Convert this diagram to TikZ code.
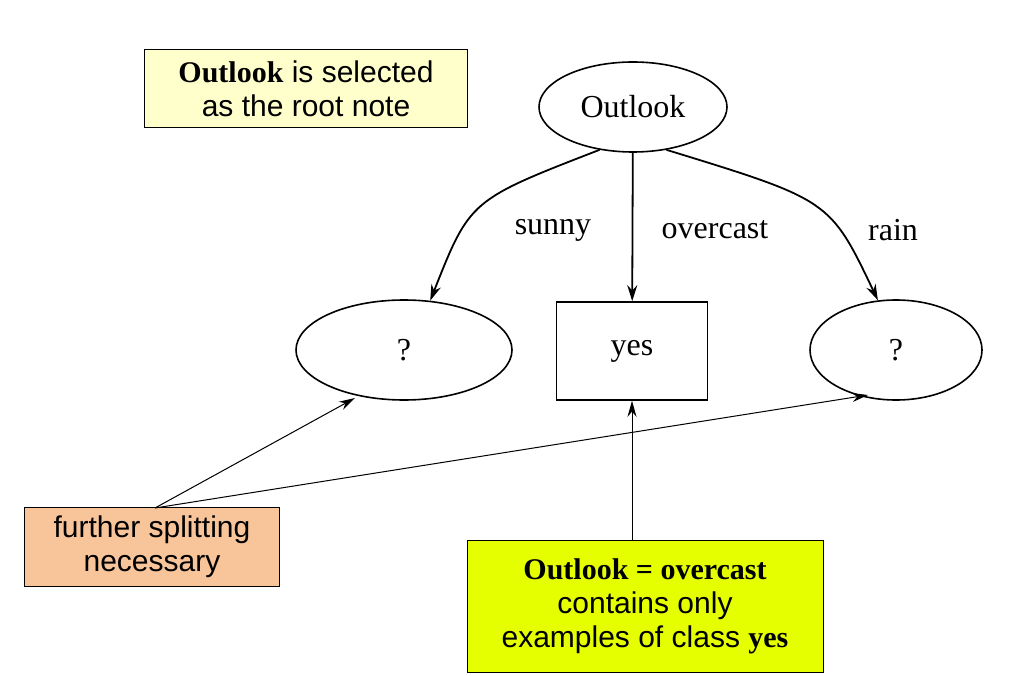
\documentclass[tikz,border=0pt]{standalone}
\usepackage{fontspec}
\setmainfont{Liberation Serif}
\setsansfont{Liberation Sans}
\usetikzlibrary{shapes.geometric,arrows.meta}
\definecolor{noteY}{HTML}{FFFFCC}
\definecolor{noteO}{HTML}{F8C49A}
\definecolor{noteG}{HTML}{E6FF00}
\tikzset{
 ell/.style={draw,ellipse,line width=1.6pt,font=\fontsize{32}{36}\selectfont},
 rectnode/.style={draw,rectangle,line width=1.6pt,font=\fontsize{32}{36}\selectfont},
 note/.style={draw,rectangle,line width=1pt,align=center,font=\sffamily\fontsize{30}{34}\selectfont},
 tree/.style={-{Stealth[length=16pt,width=10pt]},line width=1.8pt},
 lab/.style={font=\fontsize{32}{36}\selectfont},
 ann/.style={-{Stealth[length=16pt,width=9pt]},line width=1pt}
}
\begin{document}
\begin{tikzpicture}[x=1pt,y=-1pt]
\useasboundingbox (0,0) rectangle (1022,676);
\node[note,fill=noteY,minimum width=323pt,minimum height=78pt] (n1) at (306,89) {\rmfamily\bfseries Outlook\sffamily\mdseries{} is selected\\as the root note};
\node[ell,minimum width=188pt,minimum height=90pt] (o) at (633,107) {Outlook};
\node[ell,minimum width=216pt,minimum height=100pt] (l) at (404,350) {?};
\node[rectnode,minimum width=151pt,minimum height=98pt] (y) at (632,351) {yes};
\node[ell,minimum width=172pt,minimum height=100pt] (r) at (896,350) {?};
\draw[tree] (o.232) .. controls (470,200) .. (l.62);
\draw[tree] (o) -- (y);
\draw[tree] (o.308) .. controls (830,200) .. (r.110);
\node[lab] (s) at (553,230) {sunny};
\node[lab] (ov) at (715,230) {overcast};
\node[lab] (ra) at (893,230) {rain};
\node[note,fill=noteO,minimum width=255pt,minimum height=79pt] (f) at (152,547) {further splitting\\necessary};
\node[note,fill=noteG,minimum width=356pt,minimum height=132pt] (g) at (645,606) {\rmfamily\bfseries Outlook = overcast\\contains only\\examples of class \rmfamily\bfseries yes};
\coordinate (fa) at (155,508);
\coordinate (la) at (355,398);
\coordinate (ra2) at (868,395);
\draw[ann] (fa) -- (la);
\draw[ann] (fa) -- (ra2);
\draw[ann] (g.north -| y) -- (y.south);
\end{tikzpicture}
\end{document}
